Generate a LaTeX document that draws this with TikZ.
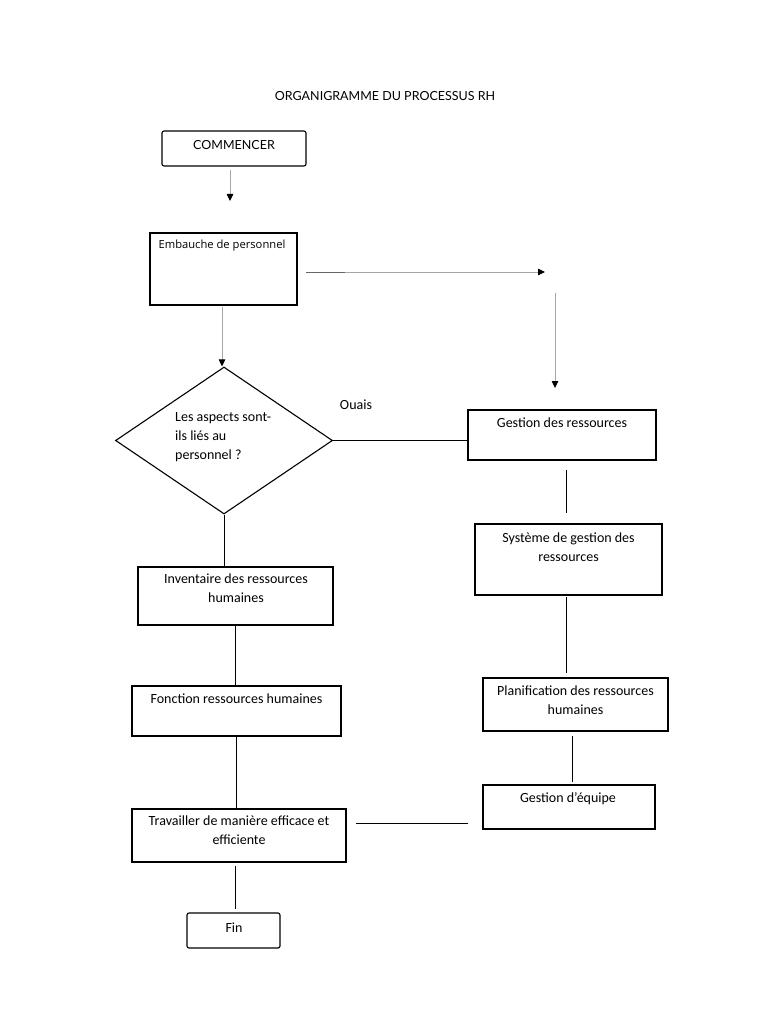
\documentclass[tikz,border=0pt]{standalone}
\usepackage{fontspec}
\setmainfont{Carlito}
\newfontfamily\latofont{Lato}
\newfontfamily\osfont{Open Sans}
\usetikzlibrary{shapes.geometric,arrows.meta}
\tikzset{
  box/.style={draw=black, line width=1.1pt, rectangle, inner sep=0pt},
  rbox/.style={box, rounded corners=2pt},
  txt/.style={font=\fontsize{14}{19}\selectfont, align=center, inner sep=0pt, anchor=north},
  conn/.style={draw=black, line width=1pt},
  garrow/.style={draw=black!35, line width=0.8pt, -{Triangle[length=7pt,width=6.5pt,black]}},
}
\begin{document}
\begin{tikzpicture}[x=1pt,y=-1pt]
\useasboundingbox[fill=white] (0,0) rectangle (768,1024);

% title
\node[font=\latofont\fontsize{12.5}{15}\selectfont, inner sep=0pt] (title) at (385,96) {ORGANIGRAMME DU PROCESSUS RH};

% boxes
\node[rbox, minimum width=144pt, minimum height=35pt] (com) at (234,148.5) {};
\node[font=\latofont\fontsize{12.5}{15}\selectfont, inner sep=0pt] (comt) at (234,145.5) {COMMENCER};

\node[box, minimum width=147pt, minimum height=72pt] (emb) at (223.5,269) {};
\node[font=\osfont\fontsize{11.2}{14}\selectfont, inner sep=0pt] (embt) at (222,245.5) {Embauche de personnel};

\node[draw=black, line width=1.1pt, diamond, aspect=1.476, minimum width=217pt, minimum height=147pt, inner sep=0pt] (dia) at (224,440.5) {};
\node[txt, anchor=north west, align=left] (diat) at (175,412.5) {Les aspects sont-\\ils liés au\\personnel ?};

\node[font=\fontsize{14}{17}\selectfont, inner sep=0pt] (ouais) at (356,405) {Ouais};

\node[box, minimum width=188pt, minimum height=50pt] (gr) at (562,435) {};
\node[txt] (grt) at (562,418) {Gestion des ressources};

\node[box, minimum width=187pt, minimum height=71pt] (sys) at (568.5,559.5) {};
\node[txt] (syst) at (568.5,533) {Système de gestion des\\ressources};

\node[box, minimum width=185pt, minimum height=53pt] (plan) at (575.5,704.5) {};
\node[txt] (plant) at (575.5,686) {Planification des ressources\\humaines};

\node[box, minimum width=172pt, minimum height=44pt] (eq) at (569,807) {};
\node[txt] (eqt) at (568,792) {Gestion d'équipe};

\node[box, minimum width=195pt, minimum height=58pt] (inv) at (235.5,596) {};
\node[txt] (invt) at (236,574) {Inventaire des ressources\\humaines};

\node[box, minimum width=209pt, minimum height=50pt] (fonc) at (236.5,711) {};
\node[txt] (fonct) at (236.5,694) {Fonction ressources humaines};

\node[box, minimum width=214pt, minimum height=53pt] (trav) at (239,835.5) {};
\node[txt] (travt) at (239,816) {Travailler de manière efficace et\\efficiente};

\node[rbox, minimum width=93pt, minimum height=35pt] (fin) at (233.5,930.5) {};
\node[txt] (fint) at (234,923) {Fin};

% free connector ends
\coordinate (c1a) at (230,170);
\coordinate (c1b) at (230,201);
\coordinate (c2a) at (306,272);
\coordinate (c2b) at (545,272);
\coordinate (c3a) at (555,293);
\coordinate (c3b) at (555,388);
\coordinate (c4a) at (222,307);
\coordinate (c5a) at (566,470);
\coordinate (c5b) at (566,513);
\coordinate (c6a) at (566,597);
\coordinate (c6b) at (566,673);
\coordinate (c7a) at (572,736);
\coordinate (c7b) at (572,782);
\coordinate (c8a) at (468,823);
\coordinate (c8b) at (356,823);
\coordinate (c9a) at (235,866);
\coordinate (c9b) at (235,909);

% connectors
\draw[garrow] (c1a) -- (c1b);
\draw[garrow] (c2a) -- (c2b);
\draw[draw=black!60, line width=0.8pt] (c2a) -- ++(39,0);
\draw[garrow] (c3a) -- (c3b);
\draw[garrow] (c4a) -- (c4a |- dia.north);
\draw[conn] (dia.east) -- (dia.east -| gr.west);
\draw[conn] (dia.south) -- (dia.south |- inv.north);
\draw[conn] (inv.south) -- (inv.south |- fonc.north);
\draw[conn] (fonc.south) -- (fonc.south |- trav.north);
\draw[conn] (c9a) -- (c9b);
\draw[conn] (c5a) -- (c5b);
\draw[conn] (c6a) -- (c6b);
\draw[conn] (c7a) -- (c7b);
\draw[conn] (c8a) -- (c8b);
\end{tikzpicture}
\end{document}
